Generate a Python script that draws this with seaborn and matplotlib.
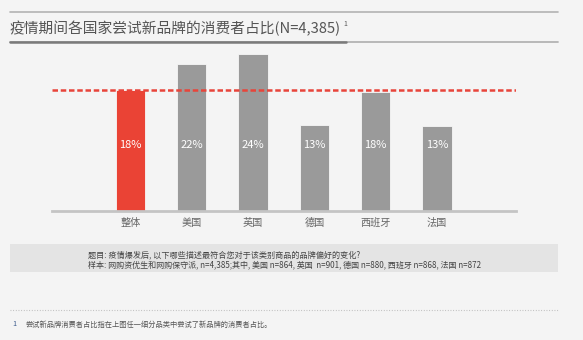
import matplotlib
matplotlib.use("Agg")
import matplotlib.pyplot as plt
from matplotlib.lines import Line2D
from matplotlib.patches import Rectangle
import seaborn as sns
import pandas as pd

categories = ["整体", "美国", "英国", "德国", "西班牙", "法国"]
values = [18.2, 22.0, 23.5, 12.9, 17.8, 12.7]
value_labels = ["18%", "22%", "24%", "13%", "18%", "13%"]
title = "疫情期间各国家尝试新品牌的消费者占比(N=4,385)"
note_lines = ["题目: 疫情爆发后, 以下哪些描述最符合您对于该类别商品的品牌偏好的变化?",
              "样本: 网购资优生和网购保守派, n=4,385;其中, 美国 n=864, 英国  n=901, 德国 n=880, 西班牙 n=868, 法国 n=872"]
footnote = "尝试新品牌消费者占比指在上图任一细分品类中尝试了新品牌的消费者占比。"

sns.set_theme(style="white")
plt.rcParams['font.family'] = ['Noto Sans CJK SC', 'DejaVu Sans']

W, H = 583, 340
BG = "#f4f4f4"
fig = plt.figure(figsize=(W / 100, H / 100), dpi=100, facecolor=BG)

def fx(px):
    return px / W

def fy(py):
    return 1 - py / H

# axes: x 52..516 px, baseline y=211, top y=31 (27%)
ax = fig.add_axes([fx(52), fy(211), fx(516 - 52), (211 - 31) / H])
ax.set_facecolor(BG)

df = pd.DataFrame({"cat": categories, "val": values})
palette = ["#ea4335"] + ["#9a9a9a"] * (len(categories) - 1)
sns.barplot(data=df, x="cat", y="val", hue="cat", palette=palette, legend=False,
            width=0.48, ax=ax, edgecolor="#f7f7f7", linewidth=0.6, saturation=1)

ax.set_xlim(-1.28, 6.29)
ax.set_ylim(0, 27)
for s in ["top", "right", "left"]:
    ax.spines[s].set_visible(False)
ax.spines["bottom"].set_color("#c4c4c4")
ax.spines["bottom"].set_linewidth(2)
ax.set_yticks([])
ax.set_xlabel("")
ax.set_ylabel("")
ax.tick_params(axis="x", length=0, pad=5, labelsize=7.3, labelcolor="#666666")

ax.axhline(values[0], color="#e8443a", lw=1.8, ls=(0, (2.2, 1.1)), zorder=5)

for i, lab in enumerate(value_labels):
    ax.text(i, 9.9, lab, ha="center", va="center", color="white", fontsize=8,
            zorder=6)

# header lines and title
fig.add_artist(Line2D([fx(10), fx(558)], [fy(12), fy(12)], color="#b3b3b3", lw=1.2))
fig.add_artist(Line2D([fx(10), fx(558)], [fy(41.7), fy(41.7)], color="#b3b3b3", lw=1.3))
fig.add_artist(Line2D([fx(10), fx(346)], [fy(41.7), fy(41.7)], color="#7a7a7a", lw=1.8))
t = fig.text(fx(10), fy(28), title, ha="left", va="center", fontsize=10.6, color="#555555")
fig.canvas.draw()
bb = t.get_window_extent()
fig.text((bb.x1 + 2) / W, fy(23.5), "1", ha="left", va="center", fontsize=5, color="#555555")

# note box
fig.add_artist(Rectangle((fx(10), fy(271.5)), fx(548), (271.5 - 244) / H,
                         facecolor="#e4e4e4", edgecolor="none"))
fig.text(fx(88), fy(254.5), note_lines[0], ha="left", va="center", fontsize=5.85, color="#444444")
fig.text(fx(88), fy(264.5), note_lines[1], ha="left", va="center", fontsize=5.8, color="#444444")

# dotted line and footnote
fig.add_artist(Line2D([fx(10), fx(558)], [fy(310), fy(310)], color="#bbbbbb", lw=0.8,
                      ls=(0, (0.8, 1.6))))
fig.text(fx(12.5), fy(324.5), "1", ha="left", va="center", fontsize=5.2, color="#3a5a8c")
fig.text(fx(25), fy(324.5), footnote, ha="left", va="center", fontsize=5.2, color="#555555")

fig.savefig("out.png", dpi=100, facecolor=BG)
